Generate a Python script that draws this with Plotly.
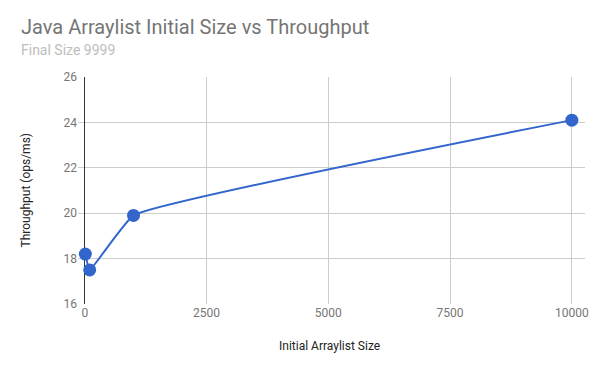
import plotly.graph_objects as go

initial_size = [10, 100, 1000, 10000]
throughput = [18.2, 17.5, 19.9, 24.1]
x_ticks = [0, 2500, 5000, 7500, 10000]
x_tick_labels = ["0", "2500", "5000", "7500", "10000"]
y_ticks = [16, 18, 20, 22, 24, 26]

OFF = 8  # page body margin offset
L, T = 78 - OFF, 77 - OFF
R = 15 + OFF
B = 371 - (304 - OFF)
PW, PH = 600 - L - R, 371 - T - B

fig = go.Figure()
fig.add_trace(go.Scatter(
    x=initial_size, y=throughput, mode="lines+markers",
    line=dict(color="#3366cc", width=2, shape="spline", smoothing=0.3),
    marker=dict(color="#3366cc", size=13),
    showlegend=False,
))

def px_x(p):
    return (p - OFF - L) / PW

def px_y(p):
    return 1 - (p - OFF - T) / PH

fig.update_layout(
    width=600, height=371,
    margin=dict(l=L, r=R, t=T, b=B),
    paper_bgcolor="white", plot_bgcolor="white",
    font=dict(family="Roboto", color="#757575", size=12),
    annotations=[
        dict(text="Java Arraylist Initial Size vs Throughput", xref="paper", yref="paper",
             x=px_x(19), y=px_y(27), xanchor="left", yanchor="middle",
             showarrow=False, font=dict(size=20, color="#757575", family="Roboto")),
        dict(text="Final Size 9999", xref="paper", yref="paper",
             x=px_x(19), y=px_y(50), xanchor="left", yanchor="middle",
             showarrow=False, font=dict(size=14, color="#bdbdbd", family="Roboto")),
        dict(text="Throughput (ops/ms)", xref="paper", yref="paper",
             x=px_x(25), y=0.5, xanchor="center", yanchor="middle", textangle=-90,
             showarrow=False, font=dict(size=12, color="#222222", family="Roboto")),
        dict(text="Initial Arraylist Size", xref="paper", yref="paper",
             x=px_x(329), y=px_y(346), xanchor="center", yanchor="middle",
             showarrow=False, font=dict(size=12, color="#222222", family="Roboto")),
    ],
    xaxis=dict(
        range=[-140, 10270], tickvals=x_ticks, ticktext=x_tick_labels,
        showgrid=True, gridcolor="#cccccc", automargin=False,
        zeroline=True, zerolinecolor="#333333", zerolinewidth=1,
        showline=False, ticks="", tickfont=dict(color="#757575", size=12),
    ),
    yaxis=dict(
        range=[16, 26], tickvals=y_ticks, showgrid=True, gridcolor="#cccccc",
        automargin=False, zeroline=False, showline=False, ticks="",
        tickfont=dict(color="#757575", size=12),
    ),
)

fig.write_html("out.html")
